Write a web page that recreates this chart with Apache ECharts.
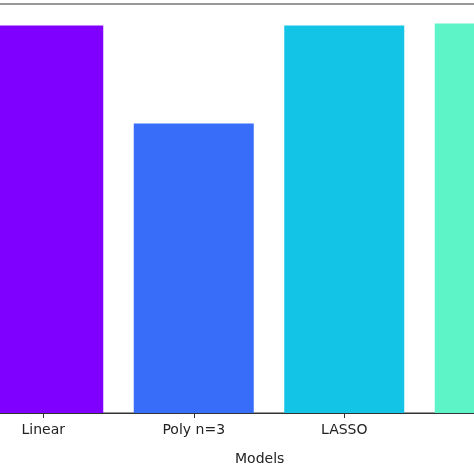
<!DOCTYPE html>
<html><head><meta charset="utf-8">
<script src="https://cdn.jsdelivr.net/npm/echarts@6/dist/echarts.min.js"></script>
<style>html,body{margin:0;padding:0;background:#fff;overflow:hidden;width:474px;height:474px}#c{width:604px;height:474px;margin-left:-33.5px}</style>
</head><body><div id="c"></div>
<script>
const categories = ['Linear', 'Poly n=3', 'LASSO', 'Ridge'];
const values = [0.995, 0.743, 0.995, 1.0];
const colors = ['#8000ff', '#386df9', '#14c4e6', '#5df4c8'];
const chart = echarts.init(document.getElementById('c'));
chart.setOption({
  animation: false,
  grid: {left: 1, right: 1, top: 4, bottom: 61, show: true, borderColor: '#333', borderWidth: 1.2, backgroundColor: 'transparent'},
  xAxis: {type: 'category', data: categories,
    axisLine: {lineStyle: {color: '#333'}},
    axisTick: {show: true, alignWithLabel: true, length: 5, lineStyle: {color: '#333'}},
    axisLabel: {color: '#222', fontSize: 14, fontFamily: 'DejaVu Sans', margin: 10}},
  yAxis: {type: 'value', min: 0, max: 1.05, show: false, splitLine: {show: false}},
  series: [{type: 'bar', barWidth: 120,
    data: values.map((v, i) => ({value: v, itemStyle: {color: colors[i]}}))}],
  graphic: [{type: 'text', left: 268, top: 452,
    style: {text: 'Models', fontSize: 14, fontFamily: 'DejaVu Sans', fill: '#222'}}]
});
</script></body></html>
